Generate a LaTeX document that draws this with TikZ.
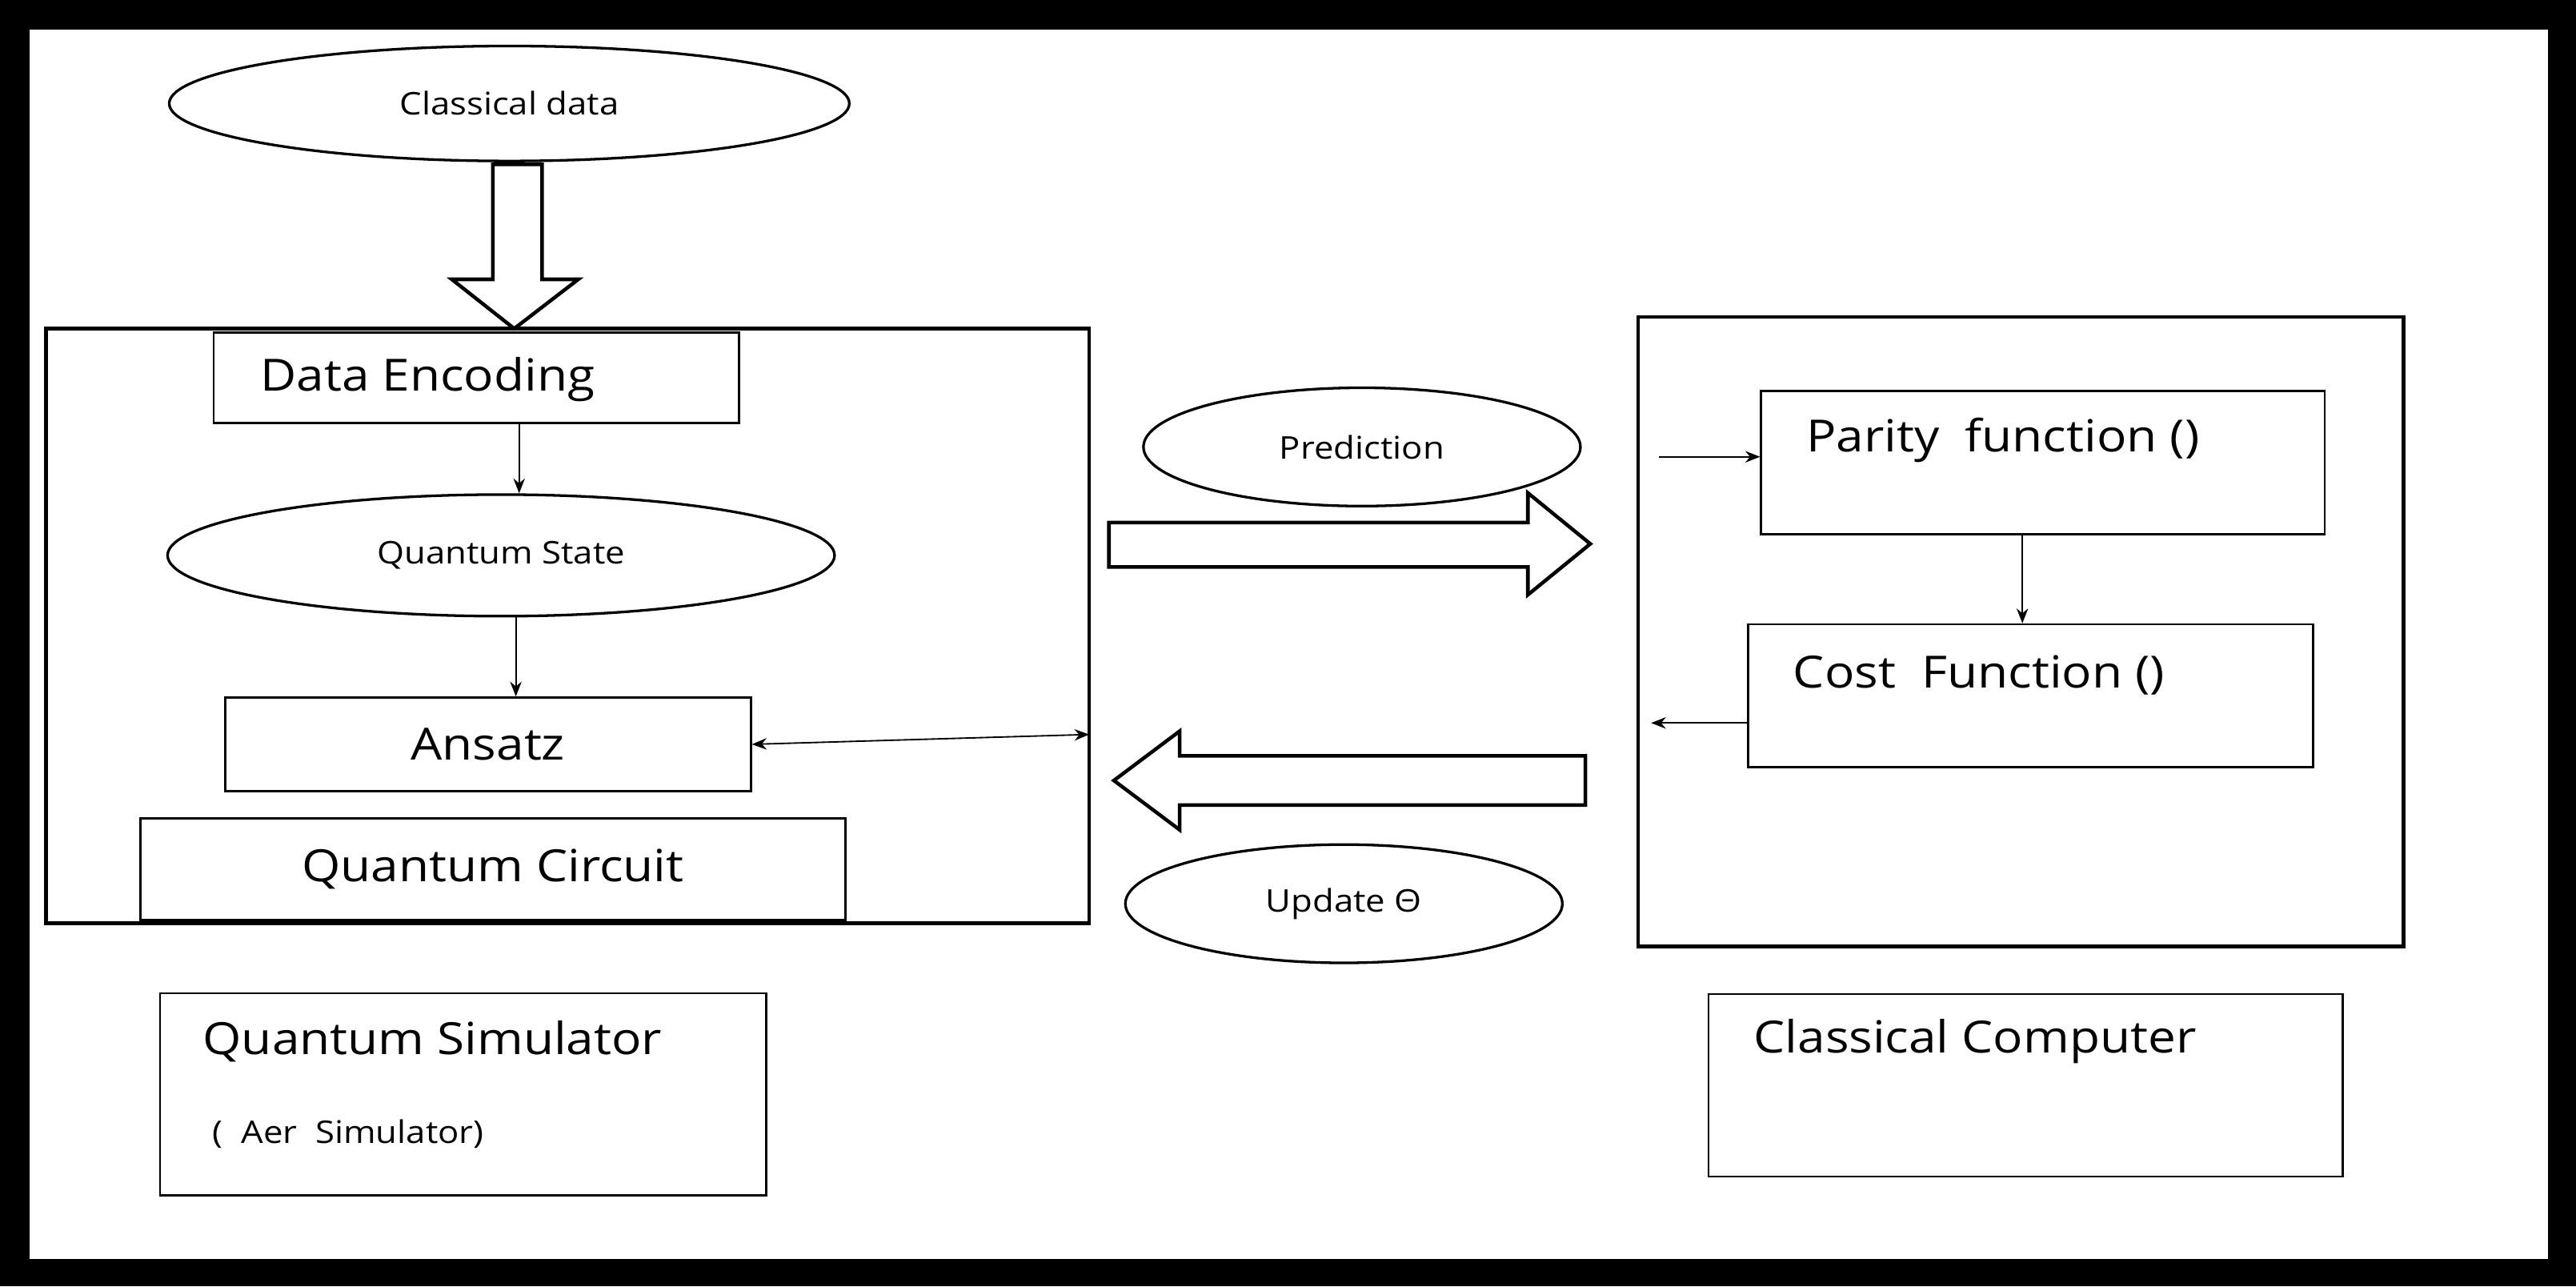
\documentclass[tikz,border=0pt]{standalone}
\usepackage{fontspec}
\setmainfont{Open Sans}[FakeStretch=1.12]
\usetikzlibrary{shapes.geometric,arrows.meta}
\begin{document}
\begin{tikzpicture}[x=1pt,y=-1pt,
  box/.style={draw,line width=1.3pt,inner sep=0},
  ell/.style={draw,ellipse,line width=1.6pt,inner sep=0},
  big/.style={font=\fontsize{27}{30}\selectfont},
  small/.style={font=\fontsize{19}{22}\selectfont},
  arr/.style={-{Stealth[length=9pt,width=7pt]},line width=0.9pt},
  hollow/.style={draw,line width=2.2pt,fill=white}]
\fill[black] (0,0) rectangle (1568,783);
\fill[white] (18,18) rectangle (1551,766);
\useasboundingbox (0,0) rectangle (1568,783);
% ellipses
\node[ell,minimum width=414pt,minimum height=70pt,small] (cd) at (310,63) {Classical data};
\node[ell,minimum width=406pt,minimum height=74pt,small] (qs) at (305,338) {Quantum State};
\node[ell,minimum width=266pt,minimum height=72pt,small] (pr) at (829,272) {Prediction};
\node[ell,minimum width=266pt,minimum height=72pt,small] (up) at (818,550) {Update \symbol{"0398}};
% hollow down arrow
\draw[hollow] (300,100) -- (330,100) -- (330,170) -- (352,170) -- (313,200) -- (275,170) -- (300,170) -- cycle;
% left frame
\draw[line width=2.2pt] (28,200) rectangle (663,562);
\coordinate (lr) at (663,447);
\node[box,minimum width=320pt,minimum height=55pt] (de) at (290,230) {};
\node[big,anchor=west] at (155,231) {Data Encoding};
\node[box,minimum width=320pt,minimum height=57pt,big] (an) at (297,453) {Ansatz};
\node[box,minimum width=429pt,minimum height=62pt,big] (qc) at (300,529) {Quantum Circuit};
\draw[arr] (316,258) -- (qs.north -| 316,0);
\draw[arr] (qs.south -| 314,0) -- (an.north -| 314,0);
\draw[{Stealth[length=9pt,width=7pt]}-{Stealth[length=9pt,width=7pt]},line width=0.9pt] (an.east) -- (lr);
% simulator
\node[box,minimum width=369pt,minimum height=123pt] (qsim) at (282,666) {};
\node[big,anchor=west] at (120,634) {Quantum Simulator};
\node[small,anchor=west] at (126,690) {(\ \ Aer\ \ Simulator)};
% hollow right / left arrows
\draw[hollow] (675,318) -- (930,318) -- (930,300) -- (968,331) -- (930,362) -- (930,345) -- (675,345) -- cycle;
\draw[hollow] (965,460) -- (718,460) -- (718,445) -- (678,475) -- (718,505) -- (718,490) -- (965,490) -- cycle;
% right frame
\draw[line width=2.2pt] (997,193) rectangle (1463,576);
\node[box,minimum width=343pt,minimum height=87pt] (pf) at (1243.5,281.5) {};
\node[big,anchor=west] at (1096,268) {Parity\ \ function ()};
\node[box,minimum width=344pt,minimum height=87pt] (cf) at (1236,423.5) {};
\node[big,anchor=west] at (1088,411) {Cost\ \ Function ()};
\coordinate (pin) at (1010,278);
\coordinate (cout) at (1005,440);
\draw[arr] (pin) -- (pf.west |- pin);
\draw[arr] (pf.south -| 1231,0) -- (cf.north -| 1231,0);
\draw[arr] (cf.west |- cout) -- (cout);
\node[box,minimum width=386pt,minimum height=111pt] (cc) at (1233,660.5) {};
\node[big,anchor=west] at (1064,634) {Classical Computer};
\end{tikzpicture}
\end{document}
